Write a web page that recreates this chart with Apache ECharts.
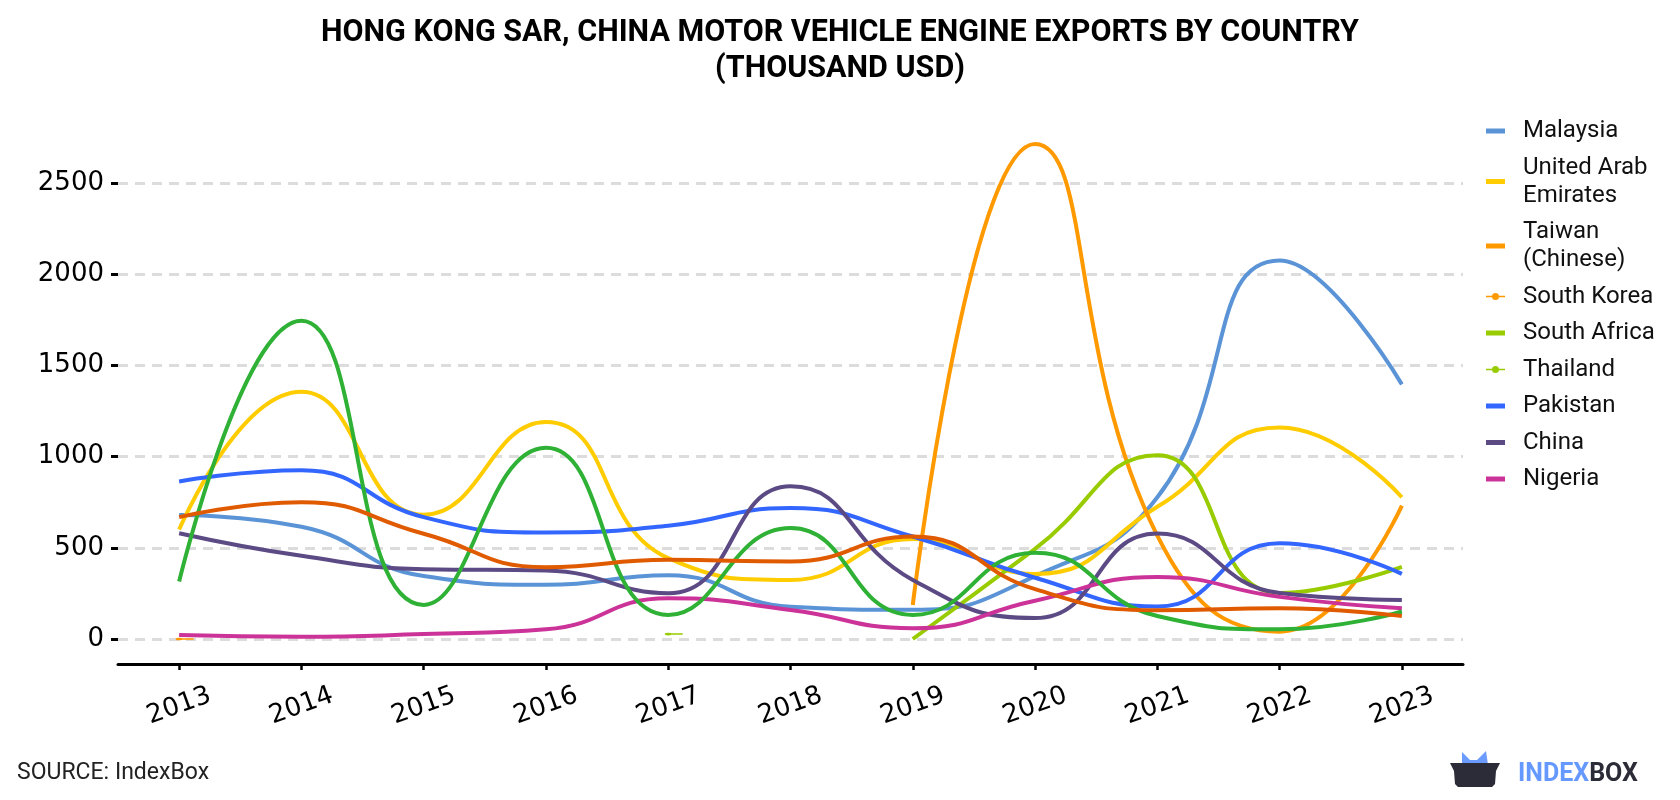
<!DOCTYPE html>
<html>
<head>
<meta charset="utf-8">
<script src="https://cdn.jsdelivr.net/npm/echarts@6/dist/echarts.min.js"></script>
<style>
  html, body { margin: 0; padding: 0; background: #fff; }
  #chart { width: 1680px; height: 800px; }
</style>
</head>
<body>
<div id="chart"></div>
<script>
// yearly values, thousand USD
const years = ['2013', '2014', '2015', '2016', '2017', '2018', '2019', '2020', '2021', '2022', '2023']
const yTicks = [0, 500, 1000, 1500, 2000, 2500]

const malaysia = [680, 615, 345, 297, 350, 177, 160, 345, 777, 2075, 1396]
const uae = [600, 1355, 681, 1190, 443, 324, 548, 357, 725, 1160, 777]
const taiwan = [null, null, null, null, null, null, 187, 2714, 567, 40, 731]
const southKorea = [0, null, null, null, null, null, null, null, null, null, null]
const southAfrica = [null, null, null, null, null, null, 0, 494, 1008, 252, 395]
const thailand = [null, null, null, null, 27, null, null, null, null, null, null]
const pakistan = [864, 925, 668, 584, 621, 718, 562, 336, 178, 525, 357]
const china = [580, 456, 383, 375, 251, 837, 324, 115, 578, 252, 214]
const nigeria = [22, 12, 27, 53, 223, 159, 59, 210, 340, 231, 168]
// two more lines drawn in the chart but missing from its legend
const unlistedGreen = [315, 1745, 187, 1048, 132, 608, 132, 473, 126, 53, 151]
const unlistedRust = [668, 750, 577, 394, 434, 425, 562, 273, 158, 168, 126]

const SERIES = [
  { name: 'Malaysia', data: malaysia, color: '#5b94d6' },
  { name: 'United Arab Emirates', data: uae, color: '#ffcc00' },
  { name: 'Taiwan (Chinese)', data: taiwan, color: '#ff9900' },
  { name: 'South Korea', data: southKorea, color: '#ff9900', dot: true },
  { name: 'South Africa', data: southAfrica, color: '#99cc00' },
  { name: 'Thailand', data: thailand, color: '#99cc00', dot: true },
  { name: 'Pakistan', data: pakistan, color: '#3366ff' },
  { name: 'China', data: china, color: '#5c4a85' },
  { name: 'Nigeria', data: nigeria, color: '#cc3399' },
  { name: 'unlisted green', data: unlistedGreen, color: '#2eb135', hidden: true },
  { name: 'unlisted rust', data: unlistedRust, color: '#e05a00', hidden: true },
]

// a lone point is drawn as a dot with a short tail to the right
// (circle and bar wound the same way so the overlap stays filled)
const DOT_TAIL = 'path://M3.5,1.5H18V5.5H3.5Z M0,3.5A3.5,3.5,0,1,1,7,3.5A3.5,3.5,0,1,1,0,3.5Z'
const DOT_ICON = 'path://M0,2.2H19V3.8H0Z M6,3A3.5,3.5,0,1,1,13,3A3.5,3.5,0,1,1,6,3Z'

const chart = echarts.init(document.getElementById('chart'))

chart.setOption({
  backgroundColor: '#fff',
  animation: false,
  title: {
    text: 'HONG KONG SAR, CHINA MOTOR VEHICLE ENGINE EXPORTS BY COUNTRY\n(THOUSAND USD)',
    left: 'center',
    top: 10,
    textStyle: {
      fontFamily: 'Roboto',
      fontWeight: 'bold',
      fontSize: 30.5,
      lineHeight: 36,
      color: '#000',
    },
  },
  legend: {
    orient: 'vertical',
    left: 1481,
    top: 112,
    itemWidth: 19,
    itemHeight: 7,
    itemGap: 8.5,
    textStyle: {
      fontFamily: 'Roboto',
      fontSize: 24,
      lineHeight: 28,
      color: '#111',
      width: 150,
      overflow: 'break',
      padding: [0, 0, 0, 13],
    },
    data: SERIES.filter(s => !s.hidden).map(s => ({
      name: s.name,
      icon: s.dot ? DOT_ICON : 'path://M0,0H19V5H0Z',
      itemStyle: { color: s.color, borderWidth: 0, opacity: 1 },
    })),
  },
  grid: { left: 118, right: 217, top: 183, bottom: 161 },
  xAxis: {
    type: 'category',
    data: years,
    boundaryGap: true,
    offset: 25,
    axisLine: { onZero: false, lineStyle: { color: '#000', width: 3 } },
    axisTick: { show: true, alignWithLabel: true, length: 6, lineStyle: { color: '#000', width: 2.5 } },
    axisLabel: {
      rotate: 20,
      align: 'center',
      verticalAlign: 'middle',
      margin: 42,
      fontFamily: 'DejaVu Sans',
      fontSize: 26,
      color: '#000',
    },
  },
  yAxis: {
    type: 'value',
    min: yTicks[0],
    max: yTicks[yTicks.length - 1],
    interval: 500,
    axisLine: { show: false },
    axisTick: { show: true, length: 7, lineStyle: { color: '#000', width: 3 } },
    axisLabel: {
      margin: 14,
      fontFamily: 'DejaVu Sans',
      fontSize: 26,
      color: '#000',
      formatter: v => String(v),
    },
    splitLine: {
      lineStyle: { color: '#dcdcdc', width: 3, type: [10, 7] },
    },
  },
  series: SERIES.map(s => ({
    name: s.name,
    type: 'line',
    data: s.data,
    smooth: 0.5,
    clip: false,
    showSymbol: !!s.dot,
    symbol: s.dot ? DOT_TAIL : 'none',
    symbolSize: [18, 7],
    symbolOffset: [5.5, 0],
    symbolKeepAspect: true,
    itemStyle: { color: s.color, borderColor: s.color, borderWidth: 0, opacity: 1 },
    lineStyle: { color: s.color, width: 4 },
    emphasis: { disabled: true },
  })),
  graphic: [
    {
      type: 'text',
      left: 17,
      top: 762,
      style: {
        text: 'SOURCE: IndexBox',
        font: '23px Roboto',
        fill: '#222',
      },
    },
    {
      type: 'polygon',
      shape: { points: [[1462, 765], [1462, 752], [1470, 760], [1477, 760], [1486, 751], [1488, 765]] },
      style: { fill: '#6b9bff' },
    },
    {
      type: 'polygon',
      shape: { points: [[1450, 763], [1500, 763], [1496, 771], [1495, 784], [1492, 787], [1458, 787], [1455, 784], [1454, 771]] },
      style: { fill: '#2b2c37' },
    },
    {
      type: 'text',
      left: 1518,
      top: 762,
      style: {
        text: '{a|INDEX}{b|BOX}',
        rich: {
          a: { fontFamily: 'Roboto', fontWeight: 'bold', fontSize: 25, fill: '#6699ff' },
          b: { fontFamily: 'Roboto', fontWeight: 'bold', fontSize: 25, fill: '#2b2c37' },
        },
      },
    },
  ],
})
</script>
</body>
</html>
